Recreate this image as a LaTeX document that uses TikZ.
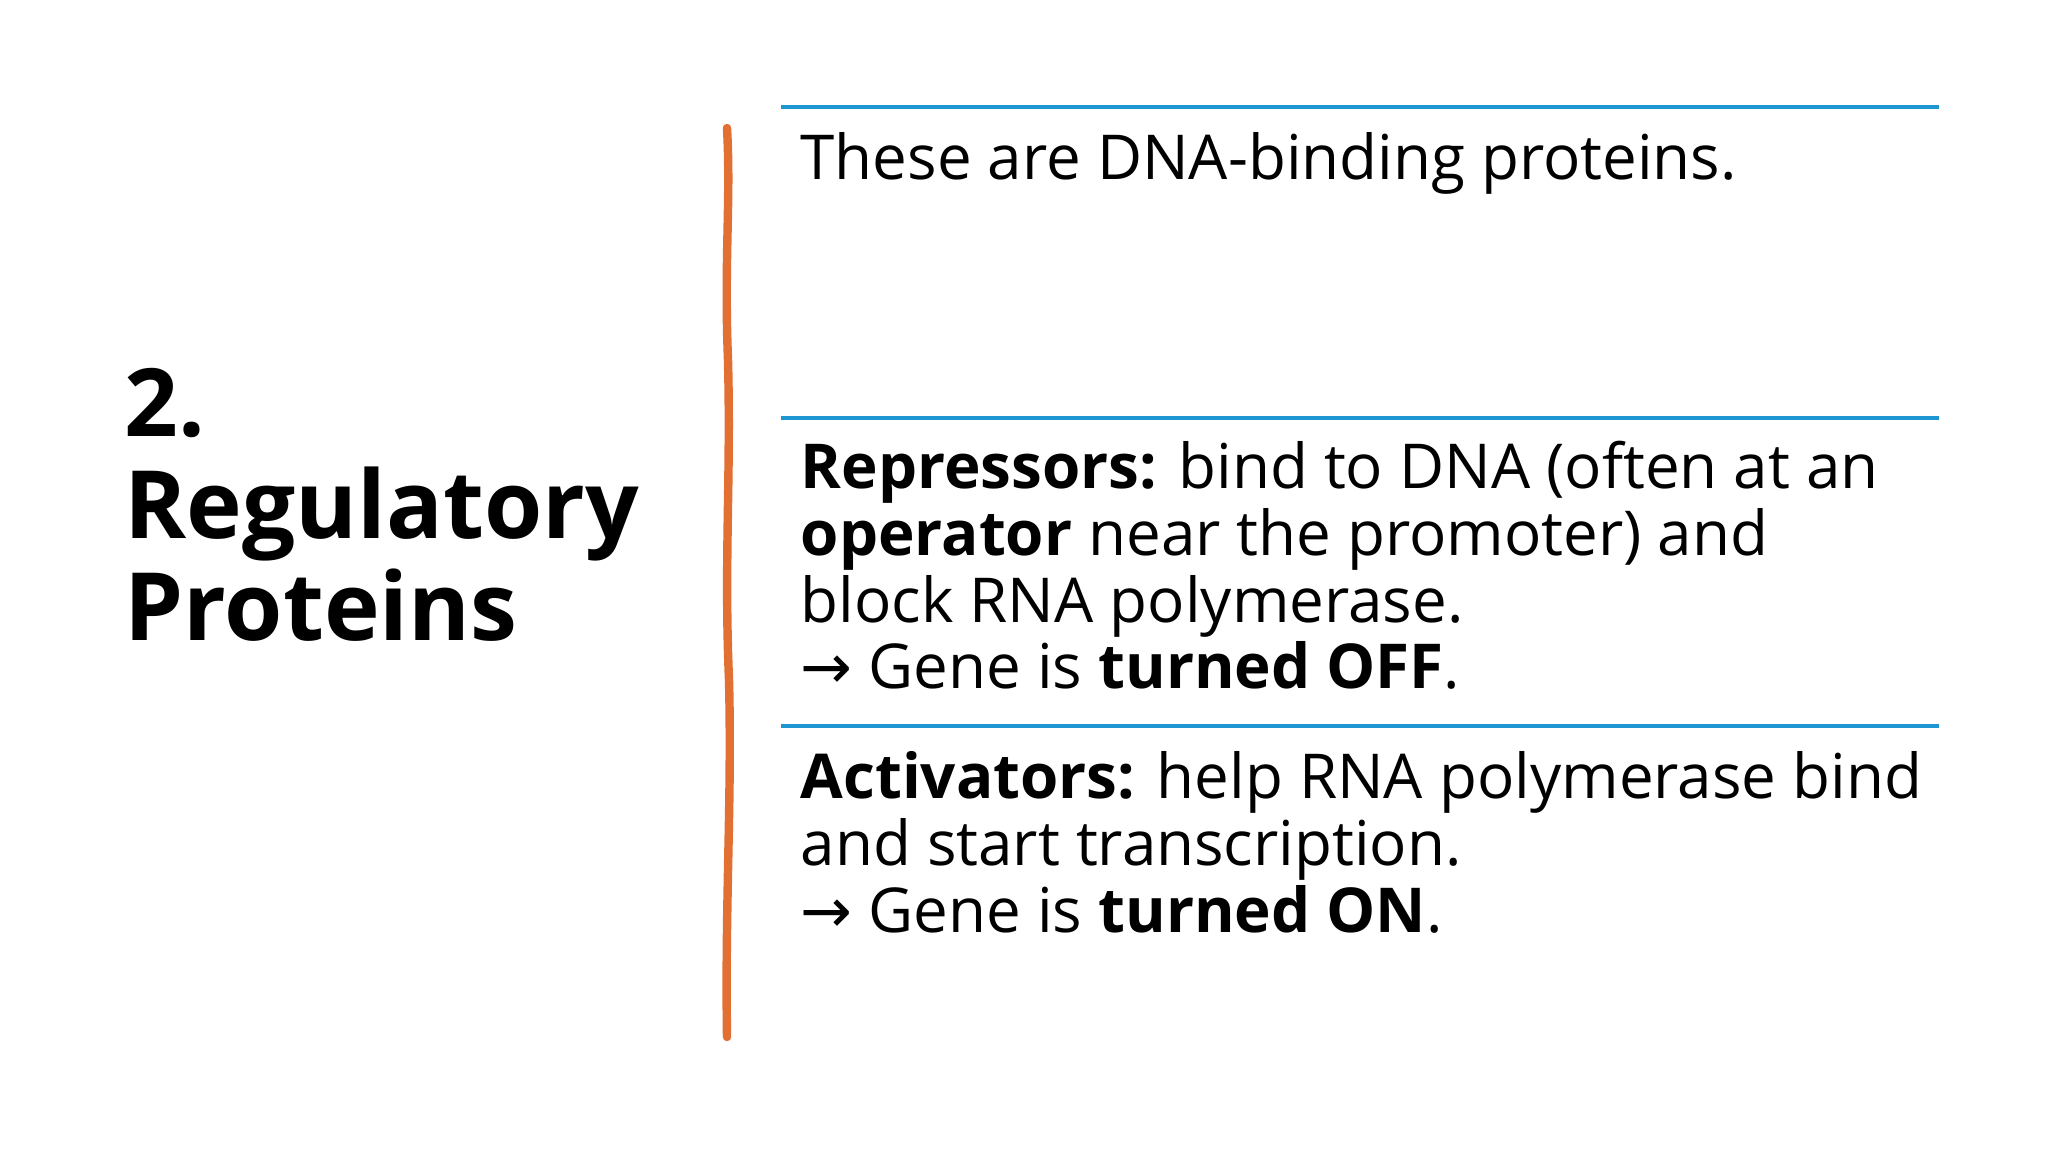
\documentclass[tikz,border=0pt]{standalone}
\usepackage{fontspec}
\setmainfont{Open Sans}
\newfontfamily\symfont{DejaVu Sans}
\definecolor{lineblue}{RGB}{30,150,210}
\definecolor{orng}{RGB}{226,112,50}
\begin{document}
\begin{tikzpicture}[x=0.01cm,y=-0.01cm,
  body/.style={anchor=base west,align=left,inner sep=0pt,font=\fontsize{17.6}{19}\selectfont},
  ttl/.style={anchor=base west,align=left,inner sep=0pt,font=\fontsize{26.8}{29}\selectfont\bfseries},
  sep/.style={draw=lineblue,line width=1.3pt}]
\useasboundingbox (0,0) rectangle (2048,1152);
\coordinate (l1a) at (781,107); \coordinate (l1b) at (1939,107);
\coordinate (l2a) at (781,418); \coordinate (l2b) at (1939,418);
\coordinate (l3a) at (781,726); \coordinate (l3b) at (1939,726);
\draw[sep] (l1a) -- (l1b);
\draw[sep] (l2a) -- (l2b);
\draw[sep] (l3a) -- (l3b);
\coordinate (o1) at (727,128); \coordinate (o2) at (727,1037);
\draw[orng,line width=2.4pt,line cap=round] (o1) .. controls (731,200) and (724,260) .. (728,360)
  .. controls (731,480) and (724,560) .. (729,680) .. controls (732,800) and (725,900) .. (o2);
\node[ttl] (title) at (124,640) {2.\\Regulatory\\Proteins};
\node[body] (t1) at (800,180) {These are DNA-binding proteins.};
\node[body] (t2) at (800,689) {\textbf{Repressors:} bind to DNA (often at an\\\textbf{operator} near the promoter) and\\block RNA polymerase.\\{\symfont →} Gene is \textbf{turned OFF}.};
\node[body] (t3) at (800,932) {\textbf{Activators:} help RNA polymerase bind\\and start transcription.\\{\symfont →} Gene is \textbf{turned ON}.};
\end{tikzpicture}
\end{document}
